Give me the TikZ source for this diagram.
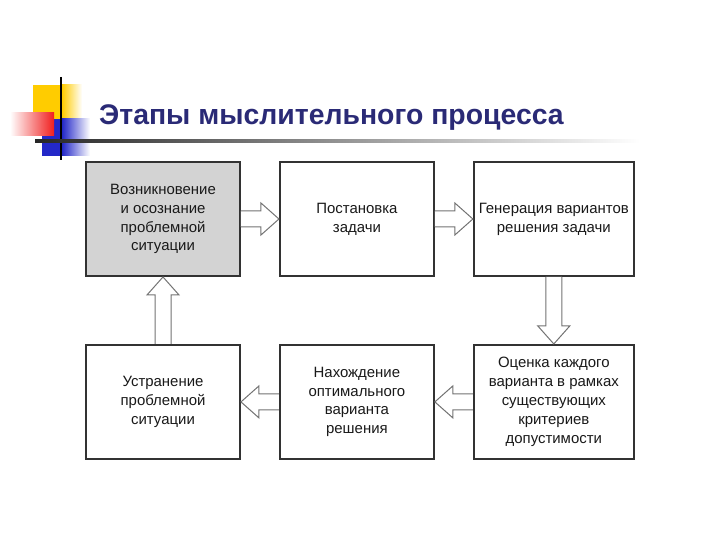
\documentclass[tikz,border=0pt]{standalone}
\usepackage{fontspec}
\setmainfont{Liberation Sans}
\usepackage{xcolor}
\usepackage{tikz}
\usetikzlibrary{calc,positioning}

\definecolor{titleblue}{RGB}{42,42,118}
\definecolor{logoyellow}{RGB}{255,204,0}
\definecolor{logored}{RGB}{240,30,30}
\definecolor{logoblue}{RGB}{35,40,200}
\definecolor{boxgray}{RGB}{211,211,211}
\definecolor{edgegray}{RGB}{50,50,50}

% hollow block arrow from #1 to #2
\newcommand{\hollowarrow}[2]{%
  \coordinate (hb) at ($(#2)!18bp!(#1)$);
  \draw[flowarrow] ($(#1)!8bp!90:(#2)$) -- ($(hb)!8bp!90:(#2)$) -- ($(hb)!16bp!90:(#2)$)
    -- (#2) -- ($(hb)!16bp!-90:(#2)$) -- ($(hb)!8bp!-90:(#2)$) -- ($(#1)!8bp!-90:(#2)$);
}

\begin{document}
\begin{tikzpicture}[
  x=1bp, y=-1bp,
  stage/.style={draw=edgegray, line width=1.9bp, fill=white, minimum width=154bp,
    minimum height=114bp, align=center, inner sep=2bp, text=black!90,
    font=\fontsize{15}{19}\selectfont},
  wide/.style={minimum width=160bp},
  flowarrow/.style={draw=gray!90!black, line width=1bp, fill=white, line join=miter},
]
\useasboundingbox (0,0) rectangle (720,540);

% Logo
\fill[logoyellow] (33,85) rectangle (62,120);
\shade[left color=logoyellow, right color=white] (62,85) rectangle (82,120);
\fill[logoblue] (42,119) rectangle (62,156);
\shade[left color=logoblue, right color=white] (62,119) rectangle (90,156);
\shade[left color=white, right color=logored] (10,113) rectangle (54,136);
\draw[line width=2bp] (61,77) -- (61,160);
\shade[left color=black!85, middle color=gray!65, right color=white] (35,140) rectangle (640,142.5);

% Title
\node[anchor=base west, inner sep=0pt, font=\fontsize{28.5}{32}\selectfont\bfseries, text=titleblue]
  (title) at (99,125) {Этапы мыслительного процесса};

% Boxes
\node[stage, fill=boxgray] (origin) at (163,219)
  {Возникновение\\и осознание\\проблемной\\ситуации};
\node[stage, right=38bp of origin] (setting) {Постановка\\задачи};
\node[stage, wide, right=38bp of setting] (generation) {Генерация вариантов\\решения задачи};
\node[stage, wide, below=67bp of generation] (evaluation)
  {Оценка каждого\\варианта в рамках\\существующих\\критериев\\допустимости};
\node[stage, below=67bp of setting] (choice) {Нахождение\\оптимального\\варианта\\решения};
\node[stage, below=67bp of origin] (removal) {Устранение\\проблемной\\ситуации};

% Arrows
\hollowarrow{origin.east}{setting.west}
\hollowarrow{setting.east}{generation.west}
\hollowarrow{generation.south}{evaluation.north}
\hollowarrow{evaluation.west}{choice.east}
\hollowarrow{choice.west}{removal.east}
\hollowarrow{removal.north}{origin.south}
\end{tikzpicture}
\end{document}
